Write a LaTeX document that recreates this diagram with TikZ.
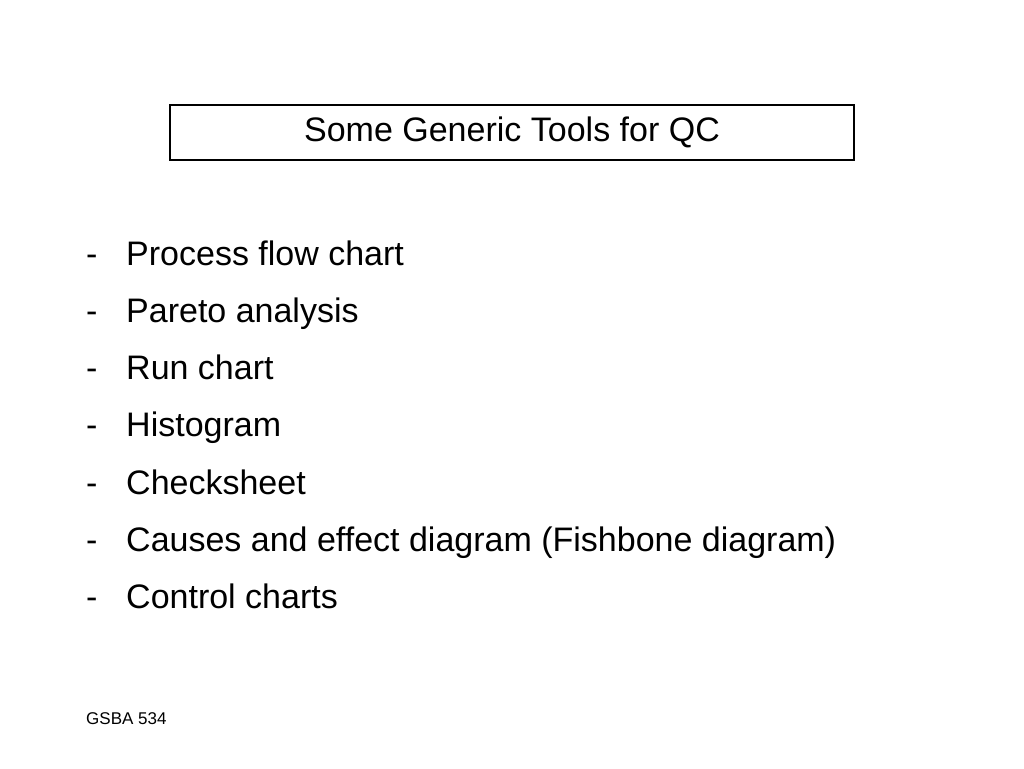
\documentclass[tikz,border=0pt]{standalone}
\usepackage{fontspec}
\setmainfont{Liberation Sans}
\begin{document}
\begin{tikzpicture}[x=1pt,y=-1pt,
  item/.style={anchor=base west,inner sep=0pt,font=\fontsize{34}{40}\selectfont}]
\useasboundingbox (0,0) rectangle (1024,768);
\node[draw,line width=2pt,minimum width=684pt,minimum height=55pt,inner sep=0pt,font=\fontsize{34}{40}\selectfont] (title) at (512,132.5) {Some Generic Tools for QC};
\foreach \t [count=\i] in {Process flow chart,Pareto analysis,Run chart,Histogram,Checksheet,Causes and effect diagram (Fishbone diagram),Control charts}{
  \node[item] (d\i) at (86,{265+57.3*(\i-1)}) {-};
  \node[item] (t\i) at (126,{265+57.3*(\i-1)}) {\t};
}
\node[anchor=base west,inner sep=0pt,font=\fontsize{17}{20}\selectfont] (foot) at (86,724) {GSBA 534};
\end{tikzpicture}
\end{document}
